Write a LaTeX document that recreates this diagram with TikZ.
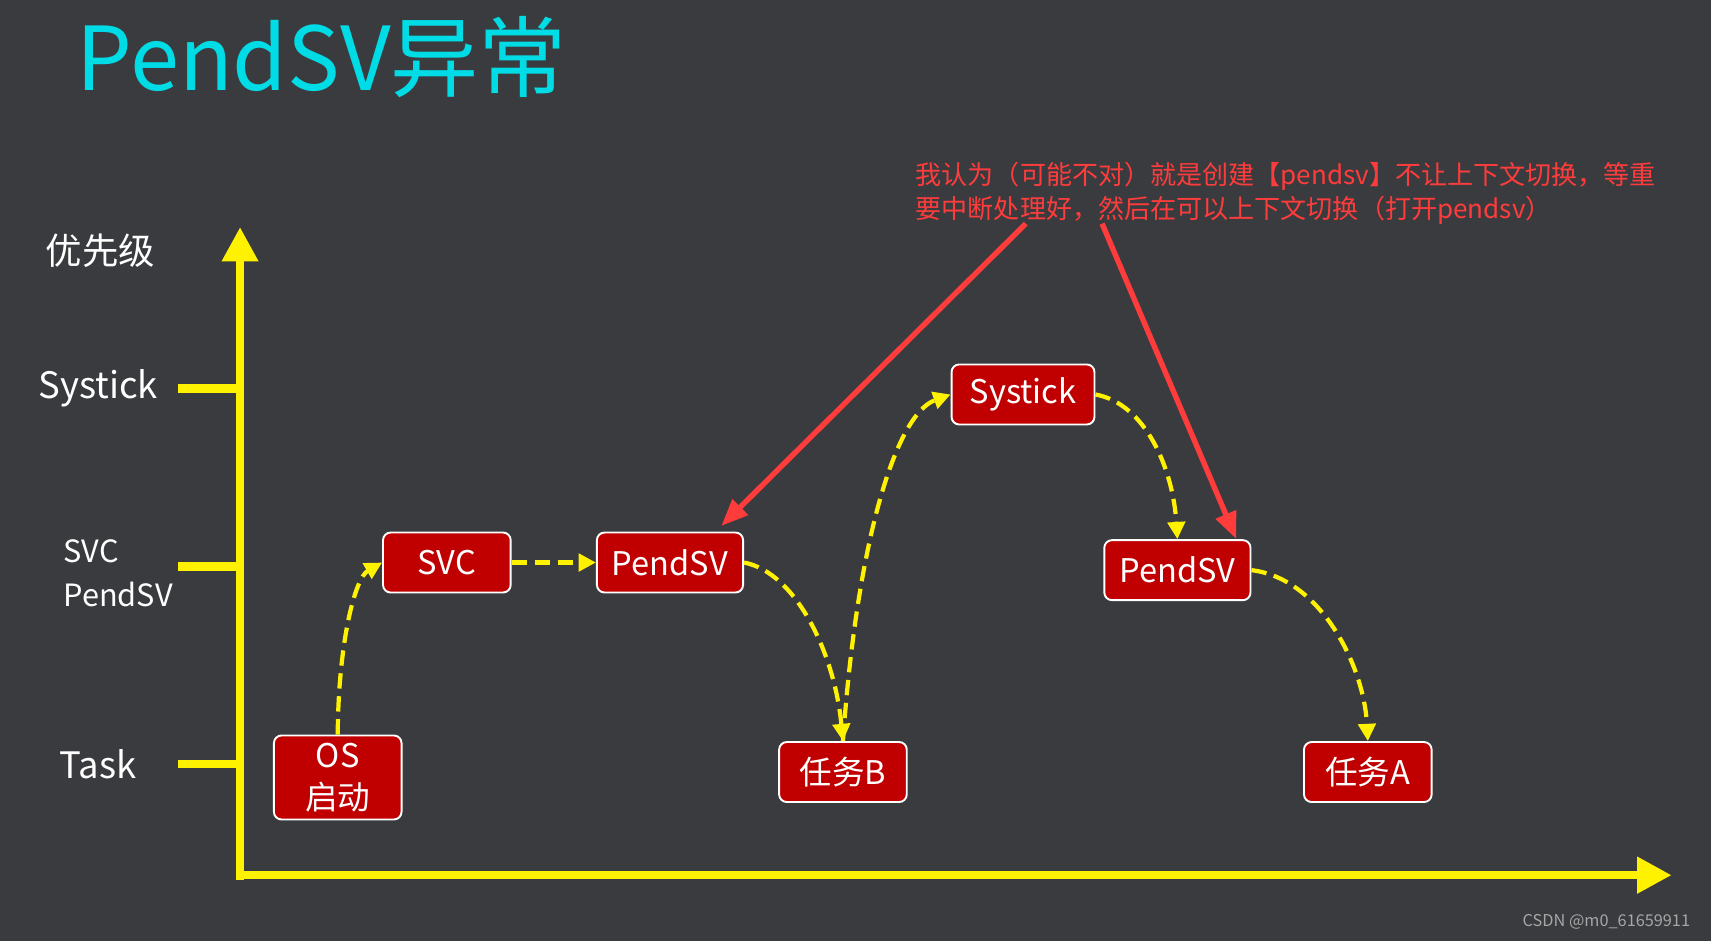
\documentclass[tikz,border=0pt]{standalone}
\usepackage{fontspec}
\setmainfont{Noto Sans CJK SC}
\usetikzlibrary{arrows.meta}
\definecolor{bg}{RGB}{58,59,63}
\definecolor{boxred}{RGB}{192,0,0}
\definecolor{ann}{RGB}{255,60,60}
\definecolor{ttl}{RGB}{0,220,230}
\tikzset{
 box/.style={draw=white,line width=1pt,fill=boxred,rounded corners=4pt,text=white,font=\fontsize{17}{19}\selectfont,inner sep=0pt,align=center},
 ax/.style={yellow,line width=4.5pt,-{Triangle[length=18pt,width=18pt]}},
 tick/.style={yellow,line width=4.5pt},
 flow/.style={yellow,line width=2.2pt,dashed,dash pattern=on 8pt off 4pt,-{Triangle[length=9pt,width=9pt]}},
 red/.style={ann,line width=2.8pt,-{Triangle[length=14pt,width=11pt]}},
 lab/.style={text=white,font=\fontsize{19}{22}\selectfont}
}
\begin{document}
\begin{tikzpicture}[x=0.02cm,y=-0.02cm]
\fill[bg] (0,0) rectangle (1568,862);
\useasboundingbox (0,0) rectangle (1568,862);
\node[text=ttl,font=\fontsize{46}{52}\selectfont,anchor=west] (title) at (64,52) {PendSV异常};
\coordinate (yt) at (220,208);
\coordinate (xt) at (1532,802);
\draw[ax] (220,806) -- (yt);
\draw[ax] (216,802) -- (xt);
\coordinate (t1a) at (163,356); \coordinate (t1b) at (218,356);
\coordinate (t2a) at (163,519); \coordinate (t2b) at (218,519);
\coordinate (t3a) at (163,700); \coordinate (t3b) at (218,700);
\draw[tick] (t1a)--(t1b); \draw[tick] (t2a)--(t2b); \draw[tick] (t3a)--(t3b);
\node[lab] (yl) at (92,230) {优先级};
\node[lab] (l1) at (90,356) {Systick};
\node[lab,anchor=west,font=\fontsize{16}{20}\selectfont] (l2) at (52,505) {SVC};
\node[lab,anchor=west,font=\fontsize{16}{20}\selectfont] (l3) at (52,545) {PendSV};
\node[lab] (l4) at (90,700) {Task};
\node[box,minimum width=2.34cm,minimum height=1.54cm,font=\fontsize{17}{22}\selectfont] (os) at (309.5,712.5) {OS\\启动};
\node[box,minimum width=2.34cm,minimum height=1.1cm] (svc) at (409.5,515.5) {SVC};
\node[box,minimum width=2.68cm,minimum height=1.1cm] (p1) at (614,515.5) {PendSV};
\node[box,minimum width=2.34cm,minimum height=1.1cm] (tb) at (772.5,707.5) {任务B};
\node[box,minimum width=2.62cm,minimum height=1.1cm] (sy) at (937.5,361.5) {Systick};
\node[box,minimum width=2.68cm,minimum height=1.1cm] (p2) at (1079,522.5) {PendSV};
\node[box,minimum width=2.34cm,minimum height=1.1cm] (ta) at (1253.5,707.5) {任务A};
\draw[flow] (os.north) .. controls (310,590) and (325,530) .. (svc.west);
\draw[flow] (svc.east) -- (p1.west);
\draw[flow] (p1.east) .. controls (730,525) and (765,600) .. (tb.north);
\draw[flow] (tb.north) .. controls (785,500) and (820,380) .. (sy.west);
\draw[flow] (sy.east) .. controls (1050,370) and (1075,430) .. (p2.north);
\draw[flow] (p2.east) .. controls (1210,530) and (1250,610) .. (ta.north);
\node[text=ann,font=\fontsize{13.6}{18}\selectfont,align=left,anchor=north west] (note) at (833,142) {我认为（可能不对）就是创建【pendsv】不让上下文切换，等重\\要中断处理好，然后在可以上下文切换（打开pendsv）};
\coordinate (n1) at (940,205);
\coordinate (n2) at (1010,205);
\draw[red] (n1) -- (661,482);
\draw[red] (n2) -- (1133,494);
\node[text=gray!70,font=\fontsize{8.5}{10}\selectfont,anchor=east] (wm) at (1555,845) {CSDN @m0\_61659911};
\end{tikzpicture}
\end{document}
